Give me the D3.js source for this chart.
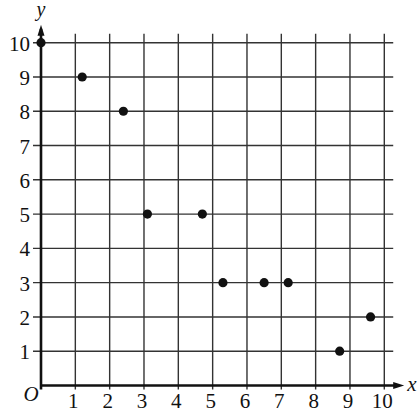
<!DOCTYPE html>
<html>
<head>
<meta charset="utf-8">
<script src="https://cdn.jsdelivr.net/npm/d3@7"></script>
<style>
  body { margin: 0; background: white; }
</style>
</head>
<body>
<svg></svg>
<script>
var xValues = [0, 1.2, 2.4, 3.1, 4.7, 5.3, 6.5, 7.2, 8.7, 9.6];
var yValues = [10, 9, 8, 5, 5, 3, 3, 3, 1, 2];
var tickValues = [1, 2, 3, 4, 5, 6, 7, 8, 9, 10];

var svgWidth = 420, svgHeight = 417;
var serif = "'Liberation Serif', 'Times New Roman', 'DejaVu Serif', serif";

var svg = d3.select('svg')
    .attr('width', svgWidth)
    .attr('height', svgHeight);

var xScale = d3.scaleLinear()
    .domain([0, 10])
    .range([41, 384.3]);

var yScale = d3.scaleLinear()
    .domain([0, 10])
    .range([385.5, 42.7]);

// grid
svg.append("g")
    .selectAll("line")
    .data(tickValues)
    .enter().append("line")
    .attr("x1", d => xScale(d))
    .attr("x2", d => xScale(d))
    .attr("y1", yScale(0) + 4)
    .attr("y2", yScale(10.26))
    .style("stroke", "#333")
    .style("stroke-width", 1.4);

svg.append("g")
    .selectAll("line")
    .data(tickValues)
    .enter().append("line")
    .attr("x1", xScale(0) - 8)
    .attr("x2", xScale(10.26))
    .attr("y1", d => yScale(d))
    .attr("y2", d => yScale(d))
    .style("stroke", "#333")
    .style("stroke-width", 1.4);

// axes
svg.append("line")
    .attr("x1", xScale(0))
    .attr("y1", yScale(0))
    .attr("x2", xScale(10.4))
    .attr("y2", yScale(0))
    .style("stroke", "#111")
    .style("stroke-width", 2.6);

svg.append("line")
    .attr("x1", xScale(0))
    .attr("y1", yScale(0) + 4)
    .attr("x2", xScale(0))
    .attr("y2", yScale(10.4))
    .style("stroke", "#111")
    .style("stroke-width", 2.6);

// arrow heads
var xTip = xScale(10.58), yTip = yScale(10.52);
svg.append("path")
    .attr("d", "M" + xTip + "," + yScale(0) + " L" + (xTip - 11) + "," + (yScale(0) - 3.5) +
        " L" + (xTip - 11) + "," + (yScale(0) + 3.5) + " Z")
    .attr("fill", "#111");
svg.append("path")
    .attr("d", "M" + xScale(0) + "," + yTip + " L" + (xScale(0) - 3.5) + "," + (yTip + 11) +
        " L" + (xScale(0) + 3.5) + "," + (yTip + 11) + " Z")
    .attr("fill", "#111");

// tick labels
svg.append("g")
    .selectAll("text")
    .data(tickValues)
    .enter().append("text")
    .attr("x", d => xScale(d) - 2)
    .attr("y", 408)
    .attr("text-anchor", "middle")
    .attr("font-family", serif)
    .attr("font-size", 21)
    .attr("fill", "#111")
    .text(d => d);

svg.append("g")
    .selectAll("text")
    .data(tickValues)
    .enter().append("text")
    .attr("x", 30)
    .attr("y", d => yScale(d) + 8)
    .attr("text-anchor", "end")
    .attr("font-family", serif)
    .attr("font-size", 21)
    .attr("fill", "#111")
    .text(d => d);

svg.append("text")
    .attr("x", 31)
    .attr("y", 401)
    .attr("text-anchor", "middle")
    .attr("font-family", serif)
    .attr("font-size", 21)
    .attr("font-style", "italic")
    .attr("fill", "#111")
    .text("O");

svg.append("text")
    .attr("x", 412)
    .attr("y", 391)
    .attr("text-anchor", "middle")
    .attr("font-family", serif)
    .attr("font-size", 21)
    .attr("font-style", "italic")
    .attr("fill", "#111")
    .text("x");

svg.append("text")
    .attr("x", 41)
    .attr("y", 16)
    .attr("text-anchor", "middle")
    .attr("font-family", serif)
    .attr("font-size", 20)
    .attr("font-style", "italic")
    .attr("fill", "#111")
    .text("y");

// points
svg.append("g")
    .selectAll("circle")
    .data(xValues)
    .enter().append("circle")
    .attr("cx", d => xScale(d))
    .attr("cy", (d, i) => yScale(yValues[i]))
    .attr("r", 4.6)
    .attr("fill", "#111");
</script>
</body>
</html>
